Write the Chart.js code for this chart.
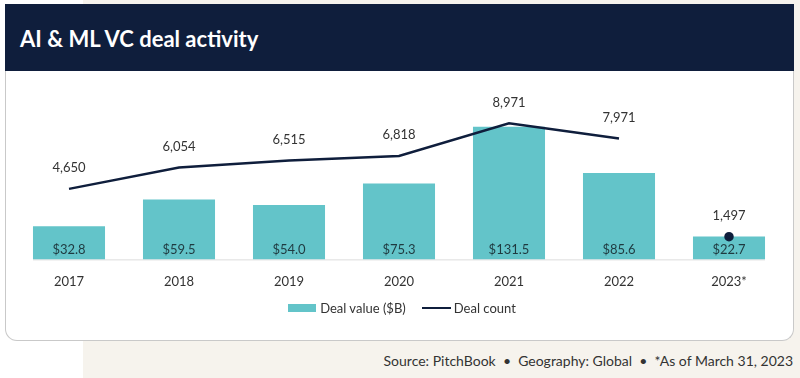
<!DOCTYPE html>
<html>
<head>
<meta charset="utf-8">
<script src="https://cdn.jsdelivr.net/npm/chart.js@4"></script>
<style>
  html, body { margin: 0; padding: 0; }
  body { width: 800px; height: 378px; position: relative; background: #ffffff; overflow: hidden;
         font-family: Lato, sans-serif; }
  .beige { position: absolute; left: 83px; top: 0; right: 0; bottom: 0; background: #f6f3ed; }
  .card { position: absolute; left: 5px; top: 4px; width: 787px; height: 336px; background: #fff;
          border: 1px solid #c9c9c9; border-top: none; border-radius: 0 0 12px 12px; }
  .header { position: absolute; left: 5px; top: 4px; width: 789px; height: 67px; background: #0f1e3c; }
  .header h1 { margin: 0; position: absolute; left: 15px; top: 21px; color: #fff;
               font: bold 22px Lato, sans-serif; letter-spacing: 0; }
  #wrap { position: absolute; left: 0; top: 72px; width: 800px; height: 246px; }
  .legend { position: absolute; top: 298px; left: 0; width: 800px; text-align: center;
            font-size: 13px; color: #333; padding-left: 2px; }
  .legend span { display: inline-block; vertical-align: middle; }
  .sw-bar { width: 28px; height: 8px; background: #63c4c9; margin-right: 4px; }
  .sw-line { width: 29px; height: 2px; background: #0f1e3c; margin: 0 3px 0 16px; }
  .source { position: absolute; right: 7px; top: 352px; font-size: 14px; color: #333; }
</style>
</head>
<body>
<div class="beige"></div>
<div class="card"></div>
<div class="header"><h1>AI &amp; ML VC deal activity</h1></div>
<div id="wrap"><canvas id="dealChart"></canvas></div>
<div class="legend">
  <span class="sw-bar"></span><span>Deal value ($B)</span><span class="sw-line"></span><span>Deal count</span>
</div>
<div class="source">Source: PitchBook &nbsp;•&nbsp; Geography: Global &nbsp;•&nbsp; *As of March 31, 2023</div>
<script>
const years = ['2017', '2018', '2019', '2020', '2021', '2022', '2023*'];
const dealValue = [32.8, 59.5, 54.0, 75.3, 131.5, 85.6, 22.7];
const dealCount = [4650, 6054, 6515, 6818, 8971, 7971, 1497];

const navy = '#0f1e3c';
const teal = '#63c4c9';
const fontFamily = 'Lato, sans-serif';

// labels for bars and line points, plus the short baseline under the bars
const labelPlugin = {
    id: 'labels',
    beforeDatasetsDraw(chart) {
        const ctx = chart.ctx;
        const bars = chart.getDatasetMeta(0).data;
        const y0 = chart.scales.y.getPixelForValue(0);
        const first = bars[0], last = bars[bars.length - 1];
        ctx.save();
        ctx.strokeStyle = '#dcdcdc';
        ctx.lineWidth = 1;
        ctx.beginPath();
        ctx.moveTo(first.x - first.width / 2, y0 + 0.5);
        ctx.lineTo(last.x + last.width / 2, y0 + 0.5);
        ctx.stroke();
        ctx.restore();
    },
    afterDatasetsDraw(chart) {
        const ctx = chart.ctx;
        ctx.save();
        ctx.font = '13px ' + fontFamily;
        ctx.textAlign = 'center';
        ctx.textBaseline = 'middle';
        chart.getDatasetMeta(0).data.forEach((bar, i) => {
            ctx.fillStyle = '#1f3a40';
            ctx.fillText('$' + dealValue[i].toFixed(1), bar.x, bar.base - 10);
        });
        chart.getDatasetMeta(1).data.forEach((pt, i) => {
            ctx.fillStyle = '#333';
            ctx.fillText(dealCount[i].toLocaleString('en-US'), pt.x, pt.y - 21);
        });
        ctx.restore();
    }
};

new Chart(document.getElementById('dealChart'), {
    type: 'bar',
    data: {
        labels: years,
        datasets: [
            {
                label: 'Deal value ($B)',
                data: dealValue,
                backgroundColor: teal,
                yAxisID: 'y',
                barPercentage: 0.655,
                categoryPercentage: 1,
                order: 2
            },
            {
                type: 'line',
                label: 'Deal count',
                data: dealCount,
                borderColor: navy,
                backgroundColor: navy,
                borderWidth: 2.5,
                pointRadius: [0, 0, 0, 0, 0, 0, 3.5],
                pointHoverRadius: 0,
                tension: 0,
                yAxisID: 'y1',
                segment: {
                    borderColor: c => c.p1DataIndex === 6 ? 'transparent' : navy
                },
                order: 1
            }
        ]
    },
    options: {
        responsive: true,
        maintainAspectRatio: false,
        animation: false,
        layout: { padding: { left: 14, right: 16, top: 26, bottom: 13 } },
        scales: {
            x: {
                grid: { display: false, drawTicks: false },
                border: { display: false },
                ticks: { color: '#333', padding: 15, font: { family: fontFamily, size: 13 } }
            },
            y: { display: false, min: 0, max: 160 },
            y1: { display: false, min: 0, max: 10640 }
        },
        plugins: {
            legend: { display: false },
            tooltip: { enabled: false }
        }
    },
    plugins: [labelPlugin]
});
</script>
</body>
</html>
